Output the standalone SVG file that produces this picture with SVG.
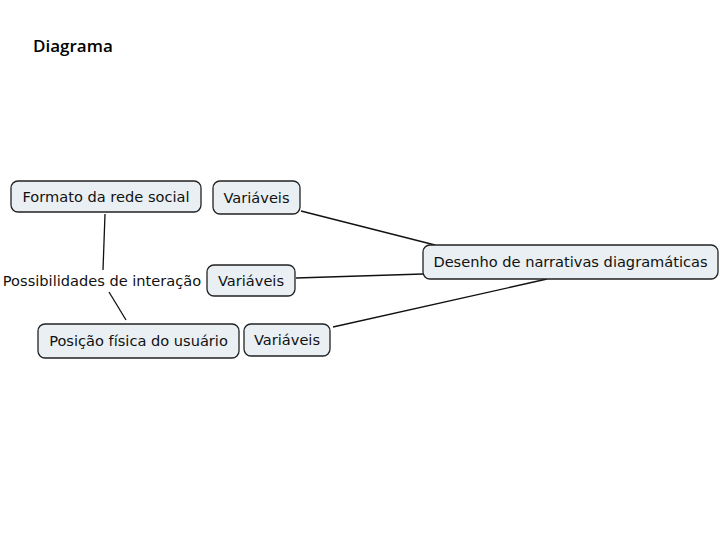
<svg xmlns="http://www.w3.org/2000/svg" width="720" height="540" viewBox="0 0 720 540">
<style>
.b{fill:#e9eff3;stroke:#222;stroke-width:1.3}
.t{font-family:"DejaVu Sans",sans-serif;font-size:14.6px;fill:#111;text-anchor:middle}
.c line{stroke:#111;stroke-width:1.3}
</style>
<rect width="720" height="540" fill="#fff"/>
<text x="33" y="52" font-family="Open Sans, sans-serif" font-size="17" font-weight="600" fill="#000">Diagrama</text>
<g class="c">
<line x1="301" y1="211" x2="435" y2="245"/>
<line x1="296" y1="278" x2="423" y2="274"/>
<line x1="333" y1="327" x2="547" y2="279"/>
<line x1="105" y1="214" x2="103" y2="270"/>
<line x1="109" y1="292" x2="126" y2="320"/>
</g>
<g id="formato"><rect class="b" x="11" y="181" width="190" height="31" rx="7"/><text class="t" x="106" y="202">Formato da rede social</text></g>
<g id="var1"><rect class="b" x="213" y="181" width="87" height="33" rx="7"/><text class="t" x="256.5" y="203">Variáveis</text></g>
<g id="possib"><text class="t" x="102" y="286">Possibilidades de interação</text></g>
<g id="var2"><rect class="b" x="207" y="265" width="88" height="31" rx="7"/><text class="t" x="251" y="286">Variáveis</text></g>
<g id="posicao"><rect class="b" x="38" y="324" width="201" height="34" rx="7"/><text class="t" x="138.5" y="346">Posição física do usuário</text></g>
<g id="var3"><rect class="b" x="244" y="324" width="86" height="32" rx="7"/><text class="t" x="287" y="345">Variáveis</text></g>
<g id="desenho"><rect class="b" x="423" y="245" width="295" height="34" rx="7"/><text class="t" x="570.5" y="267">Desenho de narrativas diagramáticas</text></g>
</svg>
